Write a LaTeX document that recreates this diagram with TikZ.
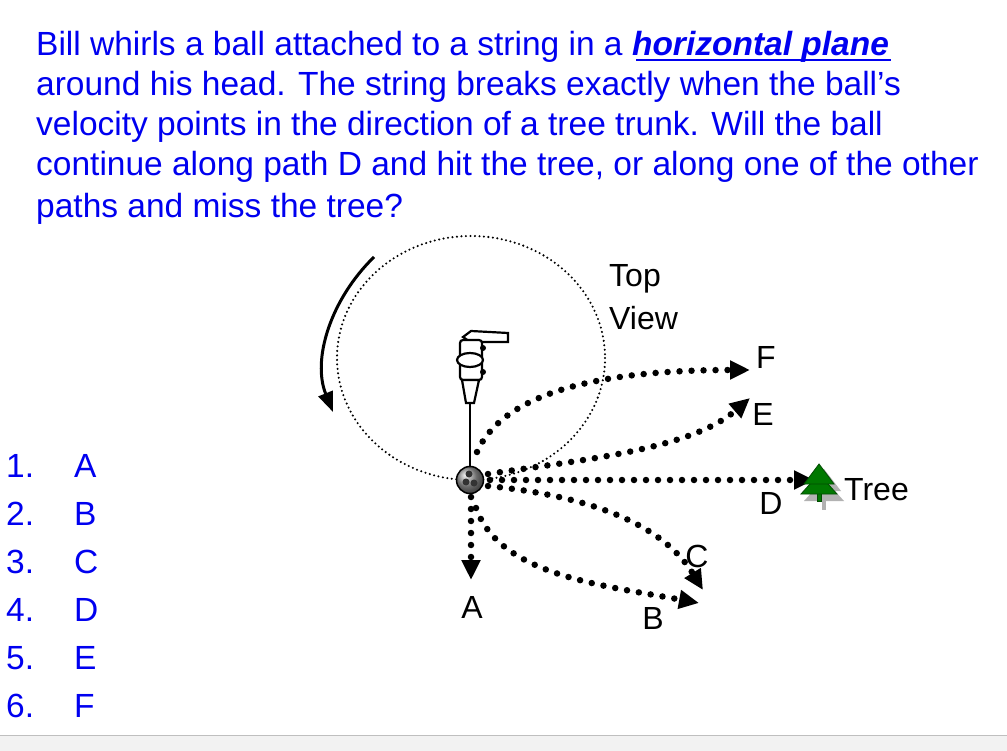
\documentclass[tikz,border=0pt]{standalone}
\usepackage{fontspec}
\setmainfont{Liberation Sans}
\usetikzlibrary{arrows.meta}
\definecolor{qblue}{RGB}{0,0,240}
\definecolor{treegreen}{RGB}{0,120,0}
\begin{document}
\begin{tikzpicture}[x=1pt,y=-1pt,
  qtext/.style={anchor=base west,inner sep=0pt,text=qblue,font=\fontsize{33.5}{38}\selectfont},
  lbl/.style={inner sep=0pt,font=\fontsize{32}{36}\selectfont},
  dotpath/.style={line width=6.5pt,line cap=round,dash pattern=on 0pt off 12pt,-{Triangle[length=20pt,width=18pt]}},
  treepart/.style={fill=treegreen,draw=black!70!green,line width=0.8pt}]
\useasboundingbox (0,0) rectangle (1007,751);
\fill[white] (0,0) rectangle (1007,751);
\fill[gray!10] (0,735) rectangle (1007,751);
\draw[gray!50] (0,735) -- (1007,735);
% question text
\node[qtext] (l1) at (36,56) {Bill whirls a ball attached to a string in a \textbf{\textit{horizontal plane}}};
\draw[qblue,line width=2pt] (636,60) -- (891,60);
\node[qtext] (l2) at (36,96) {around his head. The string breaks exactly when the ball’s};
\node[qtext] (l3) at (36,136) {velocity points in the direction of a tree trunk. Will the ball};
\node[qtext] (l4) at (36,176) {continue along path D and hit the tree, or along one of the other};
\node[qtext] (l5) at (36,218) {paths and miss the tree?};
% answer list
\foreach \n/\l [count=\i from 0] in {1/A,2/B,3/C,4/D,5/E,6/F}{
  \node[qtext] (num\n) at (6,477+48*\i) {\n.};
  \node[qtext] (let\n) at (74,477+48*\i) {\l};
}
% circle
\draw[line width=2.3pt,line cap=round,dash pattern=on 0pt off 4.5pt] (471,358) ellipse [x radius=134, y radius=122];
% rotation arrow
\coordinate (rs) at (374,257);
\coordinate (re) at (333,412);
\draw[line width=3pt,-{Triangle[length=20pt,width=15pt]}] (rs) .. controls (330,300) and (312,360) .. (re);
% hand
\draw[line width=2.2pt,fill=white] (463,337) -- (471,331) -- (508,333) -- (508,342) -- (480,342) -- (476,346) -- cycle;
\draw[line width=2.2pt,fill=white,rounded corners=3pt] (460,340) rectangle (482,380);
\draw[line width=2.2pt,fill=white] (470,360) ellipse [x radius=13, y radius=7];
\fill (483,348) circle (3) (483,372) circle (3);
\draw[line width=2.2pt,fill=white] (462,380) -- (479,380) -- (474,403) -- (466,403) -- cycle;
\coordinate (hand) at (470,403);
% ball
\node[circle,minimum size=27pt,inner sep=0pt,draw=black,line width=1.5pt,ball color=gray!80,shading=ball] (ball) at (470,480) {};
\fill[black!80] (469,474) circle (3.5) (466,482) circle (3.5) (474,483) circle (3.5);
\draw[line width=2.2pt] (hand) -- (ball.north);
% path ends
\coordinate (tA) at (471,580);
\coordinate (tB) at (699,603);
\coordinate (tC) at (703,590);
\coordinate (tD) at (814,480);
\coordinate (tE) at (750,398);
\coordinate (tF) at (750,370);
\draw[dotpath] (471,497) -- (tA);
\draw[dotpath] (476,508) .. controls (500,575) and (600,585) .. (tB);
\draw[dotpath] (488,486) .. controls (580,495) and (660,520) .. (tC);
\draw[dotpath] (490,480) -- (tD);
\draw[dotpath] (488,474) .. controls (580,460) and (690,450) .. (tE);
\draw[dotpath] (477,452) .. controls (500,400) and (580,370) .. (tF);
% labels
\node[lbl] (LA) at (472,607) {A};
\node[lbl] (LB) at (653,618) {B};
\node[lbl] (LC) at (697,556) {C};
\node[lbl] (LD) at (771,503) {D};
\node[lbl] (LE) at (763,414) {E};
\node[lbl] (LF) at (766,357) {F};
\node[lbl,anchor=west] (top) at (609,279) {Top};
\node[lbl,anchor=west] (view) at (609,318) {View};
% tree
\begin{scope}[shift={(823,489)}]
  \fill[gray!60] (-1,10) rectangle (3,21);
  \fill[gray!60] (-19,12) -- (1,-10) -- (21,12) -- cycle;
  \fill[gray!60] (-16,2) -- (1,-20) -- (18,2) -- cycle;
\end{scope}
\begin{scope}[shift={(819,484)}]
  \draw[treepart] (-2,8) rectangle (2,17);
  \draw[treepart] (-18,10) -- (0,-10) -- (18,10) -- cycle;
  \draw[treepart] (-15,0) -- (0,-20) -- (15,0) -- cycle;
\end{scope}
\node[lbl,anchor=west] (tree) at (844,490) {Tree};
\end{tikzpicture}
\end{document}
